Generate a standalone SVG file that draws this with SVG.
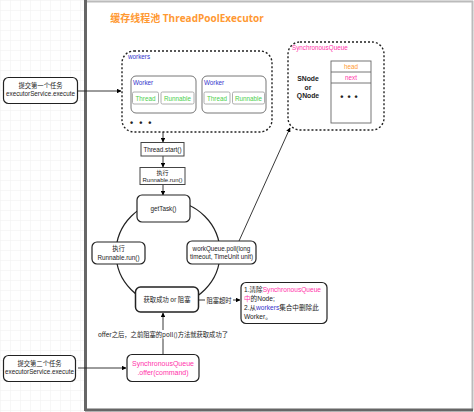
<svg xmlns="http://www.w3.org/2000/svg" width="474" height="412" viewBox="0 0 474 412">
<defs>
<pattern id="grid" width="10" height="10" patternUnits="userSpaceOnUse">
<path d="M10 0H0V10" fill="none" stroke="#efefef" stroke-width="1"/>
</pattern>
<marker id="ah" viewBox="0 0 10 10" refX="9" refY="5" markerWidth="5" markerHeight="5" orient="auto">
<path d="M0 0L10 5L0 10z" fill="#000"/>
</marker>
<style>
text{font-family:"Liberation Sans","Noto Sans CJK SC",sans-serif;font-size:6.3px;fill:#222}
.cn{font-family:"Noto Sans CJK SC",sans-serif}
.box{fill:#fff;stroke:#222;stroke-width:1.2}
.sq{fill:#fff;stroke:#444;stroke-width:1}
.dash{fill:#fff;stroke:#222;stroke-width:1.4;stroke-dasharray:2 2}
.wk{fill:#fff;stroke:#666;stroke-width:0.9}
.tb{fill:#fff;stroke:#999;stroke-width:0.8}
.gr{fill:#4ccf4c}
.bl{fill:#3333cc}
.pk{fill:#ff33aa}
.ln{fill:none;stroke:#222;stroke-width:0.9}
</style>
</defs>
<rect width="474" height="412" fill="#fff"/>
<rect width="474" height="412" fill="url(#grid)"/>
<g id="container">
<rect x="85" y="1" width="388" height="409" fill="#fff"/>
<line x1="85" y1="1.5" x2="473" y2="1.5" stroke="#bbb" stroke-width="2"/>
<line x1="472.5" y1="1" x2="472.5" y2="410" stroke="#bbb" stroke-width="2"/>
<line x1="85.5" y1="0" x2="85.5" y2="411" stroke="#666" stroke-width="3"/>
<line x1="85" y1="410" x2="473" y2="410" stroke="#666" stroke-width="3"/>
</g>
<g id="title"><text x="187" y="22" text-anchor="middle" style="font-family:'Open Sans','Noto Sans CJK SC',sans-serif;font-size:10px;font-weight:bold;fill:#ff9933">缓存线程池 ThreadPoolExecutor</text></g>
<g id="connectors">
<ellipse cx="168" cy="253" rx="52" ry="52" fill="none" stroke="#222" stroke-width="1.2"/>
<line class="ln" x1="78" y1="91" x2="121" y2="91" marker-end="url(#ah)"/>
<line class="ln" x1="163" y1="113" x2="163" y2="142" marker-end="url(#ah)"/>
<line class="ln" x1="163" y1="156" x2="163" y2="167" marker-end="url(#ah)"/>
<line class="ln" x1="163" y1="184" x2="163" y2="195" marker-end="url(#ah)"/>
<line class="ln" x1="239" y1="241" x2="290" y2="128" marker-end="url(#ah)"/>
<line class="ln" x1="199" y1="300" x2="240" y2="300" marker-end="url(#ah)"/>
<line class="ln" x1="78" y1="368" x2="126" y2="368" marker-end="url(#ah)"/>
<line class="ln" x1="163" y1="354" x2="163" y2="313" marker-end="url(#ah)"/>
<rect x="205" y="295" width="28" height="9" fill="#fff"/>
<text x="219" y="302.5" text-anchor="middle" class="cn">阻塞超时</text>
<rect x="96" y="330" width="134" height="9" fill="#fff"/>
<text x="163" y="337" text-anchor="middle" class="cn">offer之后，之前阻塞的poll()方法就获取成功了</text>
</g>
<g id="task1">
<rect class="box" x="3.5" y="77.5" width="74" height="26" rx="5"/>
<text x="40.5" y="88" text-anchor="middle" class="cn">提交第一个任务</text>
<text x="40.5" y="96" text-anchor="middle">executorService.execute</text>
</g>
<g id="task2">
<rect class="box" x="3.5" y="355.5" width="72" height="26" rx="5"/>
<text x="39.5" y="366" text-anchor="middle" class="cn">提交第二个任务</text>
<text x="39.5" y="374" text-anchor="middle">executorService.execute</text>
</g>
<g id="workers">
<rect class="dash" x="122" y="51" width="150" height="81" rx="12"/>
<text x="128" y="59" class="bl">workers</text>
<text x="130" y="126" style="font-size:9px;font-weight:bold;letter-spacing:6px">•••</text>
</g>
<g id="worker1">
<rect class="wk" x="131" y="76" width="65" height="37" rx="5"/>
<text x="133" y="85" class="bl">Worker</text>
<rect class="tb" x="132.5" y="92" width="26" height="12" rx="1.5"/>
<text x="145.5" y="100.5" text-anchor="middle" class="gr">Thread</text>
<rect class="tb" x="161" y="92" width="33" height="12" rx="1.5"/>
<text x="177.5" y="100.5" text-anchor="middle" class="gr">Runnable</text>
</g>
<g id="worker2">
<rect class="wk" x="202" y="76" width="64" height="37" rx="5"/>
<text x="204" y="85" class="bl">Worker</text>
<rect class="tb" x="204" y="92" width="26" height="12" rx="1.5"/>
<text x="217" y="100.5" text-anchor="middle" class="gr">Thread</text>
<rect class="tb" x="232.5" y="92" width="32" height="12" rx="1.5"/>
<text x="248.5" y="100.5" text-anchor="middle" class="gr">Runnable</text>
</g>
<g id="queue">
<rect class="dash" x="288" y="42" width="96" height="88" rx="12"/>
<text x="292" y="50" class="pk">SynchronousQueue</text>
<rect x="331" y="61" width="40" height="62" fill="#fff" stroke="#666" stroke-width="0.9"/>
<line x1="331" y1="72" x2="371" y2="72" stroke="#666" stroke-width="0.9"/>
<line x1="331" y1="83" x2="371" y2="83" stroke="#666" stroke-width="0.9"/>
<text x="351" y="69" text-anchor="middle" style="fill:#ff9933">head</text>
<text x="351" y="80" text-anchor="middle" class="pk">next</text>
<text x="351" y="100" text-anchor="middle" style="font-size:9px;font-weight:bold;letter-spacing:4px">•••</text>
<text x="308" y="81" text-anchor="middle" style="font-weight:bold;font-size:6.8px">SNode</text>
<text x="308" y="89.5" text-anchor="middle" style="font-weight:bold;font-size:6.8px">or</text>
<text x="308" y="98" text-anchor="middle" style="font-weight:bold;font-size:6.8px">QNode</text>
</g>
<g id="threadstart">
<rect class="sq" x="141" y="142.5" width="43" height="13.5"/>
<text x="162.5" y="151.5" text-anchor="middle">Thread.start()</text>
</g>
<g id="runrun">
<rect class="sq" x="140" y="167.5" width="45" height="17"/>
<text x="162.5" y="174.5" text-anchor="middle" class="cn" style="font-size:6px">执行</text>
<text x="162.5" y="182" text-anchor="middle" style="font-size:6px">Runnable.run()</text>
</g>
<g id="gettask">
<rect class="box" x="137" y="195" width="53" height="27" rx="5"/>
<text x="163.5" y="211" text-anchor="middle">getTask()</text>
</g>
<g id="run2">
<rect class="box" x="92" y="242" width="53" height="22" rx="5"/>
<text x="118.5" y="251" text-anchor="middle" class="cn">执行</text>
<text x="118.5" y="259.5" text-anchor="middle">Runnable.run()</text>
</g>
<g id="poll">
<rect class="box" x="187" y="241" width="69" height="23" rx="5"/>
<text x="221.5" y="250.5" text-anchor="middle">workQueue.poll(long</text>
<text x="221.5" y="259" text-anchor="middle">timeout, TimeUnit unit)</text>
</g>
<g id="result">
<rect class="box" x="135.5" y="287" width="63" height="25" rx="5" style="stroke-width:1.5"/>
<text x="167" y="302" text-anchor="middle" class="cn">获取成功 or 阻塞</text>
</g>
<g id="timeout">
<rect class="box" x="241" y="282.5" width="86" height="41" rx="5"/>
<text x="244" y="292" style="font-size:6.6px"><tspan>1.清除</tspan><tspan class="pk">SynchronousQueue</tspan></text>
<text x="244" y="300.5" style="font-size:6.6px"><tspan class="pk">中</tspan><tspan>的Node;</tspan></text>
<text x="244" y="309.5" style="font-size:6.6px"><tspan>2.从</tspan><tspan class="bl">workers</tspan><tspan>集合中删除此</tspan></text>
<text x="244" y="318.5" style="font-size:6.6px">Worker。</text>
</g>
<g id="offer">
<rect class="box" x="127" y="354.5" width="72" height="27" rx="5"/>
<text x="163" y="366" text-anchor="middle" class="pk" style="font-size:7px">SynchronousQueue</text>
<text x="163" y="375" text-anchor="middle" class="pk" style="font-size:7px">.offer(command)</text>
</g>
</svg>
